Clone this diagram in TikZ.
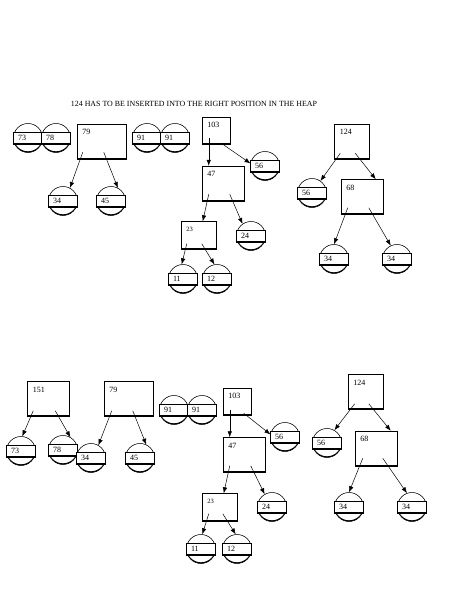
\documentclass[tikz,border=0pt]{standalone}
\usepackage{fontspec}
\setmainfont{Liberation Serif}
\usetikzlibrary{positioning,arrows.meta}

\tikzset{
  heapbox/.style={draw, rectangle, inner sep=0pt, line width=0.5pt,
    path picture={\draw[line width=2.6pt] (path picture bounding box.south west) -- (path picture bounding box.south east);}},
  boxtext/.style={label={[anchor=north west, inner xsep=5.5pt, inner ysep=5.5pt]north west:#1}},
  bigbox/.style={heapbox, minimum width=49, minimum height=35},
  widebox/.style={heapbox, minimum width=42, minimum height=35},
  sqbox/.style={heapbox, minimum width=35, minimum height=35},
  smallbox/.style={heapbox, minimum width=28, minimum height=27},
  midbox/.style={heapbox, minimum width=35, minimum height=28},
  leafbar/.style={rectangle, draw, fill=white, line width=0.5pt, anchor=center,
    minimum width=29, minimum height=12, inner xsep=4.5pt, inner ysep=0pt,
    text width=20pt, align=left, label distance=0pt,
    path picture={\draw[line width=2.6pt] (path picture bounding box.south west) -- (path picture bounding box.south east);}},
  leaf/.style={circle, draw, line width=0.5pt, minimum size=29, inner sep=0pt,
    path picture={\fill[even odd rule] (path picture bounding box.center) circle (14.5pt)
      ([yshift=1.2pt]path picture bounding box.center) circle (14.5pt);},
    label={[leafbar]center:#1}},
  arr/.style={-{Latex[length=6pt,width=4.5pt]}, line width=0.5pt}
}

\begin{document}
\begin{tikzpicture}[x=1pt, y=-1pt,
    every node/.append style={font=\fontsize{8}{9}\selectfont}]
  \useasboundingbox (0,0) rectangle (474,613);
  \node[font=\fontsize{7.9}{9}\selectfont] (title) at (194,104) {124 HAS TO BE INSERTED INTO THE RIGHT POSITION IN THE HEAP};

  \node[leaf=73] (top73) at (28,138) {};
  \node[leaf=78] (top78) at (56,138) {};
  \node[bigbox, boxtext=79] (top79) at (101.5,141.5) {};
  \node[leaf=91] (top91a) at (147,138) {};
  \node[leaf=91] (top91b) at (175,138) {};
  \node[leaf=34] (top34) at (63,201) {};
  \node[leaf=45] (top45) at (111,201) {};
  \node[smallbox, boxtext=103] (top103) at (216,130.5) {};
  \node[widebox, boxtext=47] (top47) at (223,183.5) {};
  \node[leaf=56] (top56) at (265,166) {};
  \node[midbox, boxtext={\fontsize{6.5}{7}\selectfont 23}] (top23) at (198.5,235.5) {};
  \node[leaf=24] (top24) at (251,236) {};
  \node[leaf=11] (top11) at (183,279) {};
  \node[leaf=12] (top12) at (217,279) {};
  \node[sqbox, boxtext=124] (top124) at (352,141.5) {};
  \node[leaf=56] (top56r) at (312,193) {};
  \node[widebox, boxtext=68] (top68) at (362,197) {};
  \node[leaf=34] (top34r) at (334,259) {};
  \node[leaf=34] (top34s) at (397,259) {};

  \draw[arr] ([xshift=6pt,yshift=7pt]top79.south west) -- (top34.62);
  \draw[arr] ([xshift=27pt,yshift=7pt]top79.south west) -- (top45.62);
  \draw[arr] ([xshift=7pt,yshift=6pt]top103.south west) -- ([xshift=7pt]top47.north west);
  \draw[arr] ([xshift=21pt]top103.south west) -- (top56.170);
  \draw[arr] ([xshift=7pt,yshift=7pt]top47.south west) -- ([xshift=22pt]top23.north west);
  \draw[arr] ([xshift=28pt,yshift=7pt]top47.south west) -- (top24.125);
  \draw[arr] ([xshift=6pt,yshift=6pt]top23.south west) -- (top11.95);
  \draw[arr] ([xshift=21pt,yshift=6pt]top23.south west) -- (top12.100);
  \draw[arr] ([xshift=6pt,yshift=6pt]top124.south west) -- (top56r.55);
  \draw[arr] ([xshift=21pt,yshift=6pt]top124.south west) -- ([xshift=35pt]top68.north west);
  \draw[arr] ([xshift=7pt,yshift=7pt]top68.south west) -- (top34r.90);
  \draw[arr] ([xshift=28pt,yshift=7pt]top68.south west) -- (top34s.115);

  \node[widebox, boxtext=151] (bot151) at (48.5,399) {};
  \node[bigbox, boxtext=79] (bot79) at (128.5,399) {};
  \node[leaf=91] (bot91a) at (174,410) {};
  \node[leaf=91] (bot91b) at (202,410) {};
  \node[leaf=73] (bot73) at (21,451) {};
  \node[leaf=78] (bot78) at (63,450) {};
  \node[leaf=34] (bot34) at (91,458) {};
  \node[leaf=45] (bot45) at (140,458) {};
  \node[smallbox, boxtext=103] (bot103) at (237,401.5) {};
  \node[leaf=56] (bot56) at (285,437) {};
  \node[widebox, boxtext=47] (bot47) at (244,455) {};
  \node[midbox, boxtext={\fontsize{6.5}{7}\selectfont 23}] (bot23) at (219.5,507.5) {};
  \node[leaf=24] (bot24) at (272,507) {};
  \node[leaf=11] (bot11) at (201,549) {};
  \node[leaf=12] (bot12) at (237,549) {};
  \node[sqbox, boxtext=124] (bot124) at (365.5,392) {};
  \node[leaf=56] (bot56r) at (327,443) {};
  \node[widebox, boxtext=68] (bot68) at (376,448.5) {};
  \node[leaf=34] (bot34r) at (349,507) {};
  \node[leaf=34] (bot34s) at (412,507) {};

  \draw[arr] ([xshift=6pt,yshift=6pt]bot151.south west) -- (bot73.85);
  \draw[arr] ([xshift=28pt,yshift=6pt]bot151.south west) -- (bot78.60);
  \draw[arr] ([xshift=8pt,yshift=6pt]bot79.south west) -- (bot34.60);
  \draw[arr] ([xshift=29pt,yshift=6pt]bot79.south west) -- (bot45.65);
  \draw[arr] ([xshift=7pt,yshift=5pt]bot103.south west) -- ([xshift=7pt]bot47.north west);
  \draw[arr] ([xshift=21pt,yshift=2pt]bot103.south west) -- (bot56.170);
  \draw[arr] ([xshift=7pt,yshift=7pt]bot47.south west) -- ([xshift=22pt]bot23.north west);
  \draw[arr] ([xshift=28pt,yshift=7pt]bot47.south west) -- (bot24.120);
  \draw[arr] ([xshift=7pt,yshift=8pt]bot23.south west) -- (bot11.85);
  \draw[arr] ([xshift=21pt,yshift=8pt]bot23.south west) -- (bot12.95);
  \draw[arr] ([xshift=7pt,yshift=6pt]bot124.south west) -- (bot56r.60);
  \draw[arr] ([xshift=21pt,yshift=6pt]bot124.south west) -- ([xshift=36pt]bot68.north west);
  \draw[arr] ([xshift=8pt,yshift=8pt]bot68.south west) -- (bot34r.90);
  \draw[arr] ([xshift=28pt,yshift=8pt]bot68.south west) -- (bot34s.110);
\end{tikzpicture}
\end{document}
